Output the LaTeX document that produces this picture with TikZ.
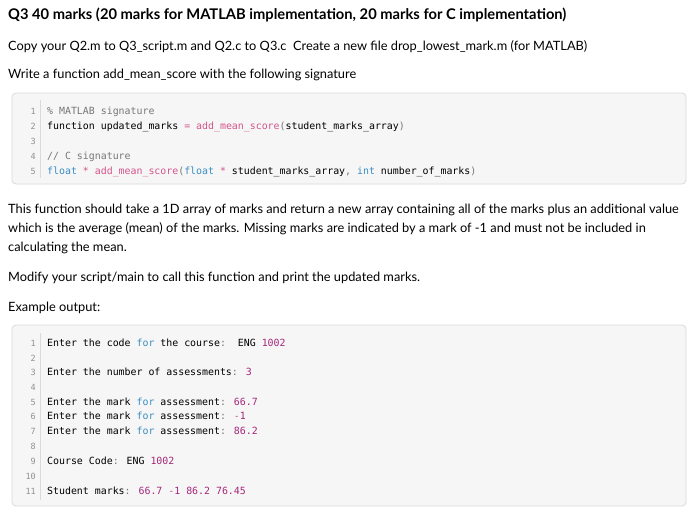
\documentclass[tikz,border=0pt]{standalone}
\usepackage{fontspec}
\setmainfont{Lato}
\newfontfamily\codefont{DejaVu Sans Mono}
\definecolor{codebg}{HTML}{F7F6F6}
\definecolor{codeframe}{HTML}{DADADA}
\definecolor{fnpink}{HTML}{D2558C}
\definecolor{numpurple}{HTML}{A3287A}
\definecolor{kwblue}{HTML}{3A8DC3}
\definecolor{cmtgray}{HTML}{777777}
\newcommand{\fn}[1]{\textcolor{fnpink}{#1}}
\newcommand{\num}[1]{\textcolor{numpurple}{#1}}
\newcommand{\kw}[1]{\textcolor{kwblue}{#1}}
\newcommand{\pn}[1]{\textcolor{cmtgray}{#1}}

\begin{document}
\begin{tikzpicture}[x=1pt, y=-1pt,
    txt/.style={anchor=base west, inner sep=0pt, font=\fontsize{12.8}{14}\selectfont},
    codeline/.style={anchor=base west, inner sep=0pt, font=\codefont\fontsize{9.9}{11}\selectfont},
    lineno/.style={anchor=base east, inner sep=0pt, text=cmtgray!80, font=\codefont\fontsize{8.5}{10}\selectfont},
    codebox/.style={draw=codeframe, fill=codebg, rounded corners=4pt, line width=0.8pt}]
    \useasboundingbox[fill=white] (0,0) rectangle (700,515);

    % heading and intro
    \node[txt, font=\bfseries\fontsize{14.7}{16}\selectfont] (title) at (8,19) {Q3 40 marks (20 marks for MATLAB implementation, 20 marks for C implementation)};
    \node[txt] (copy) at (8,50) {Copy your Q2.m to Q3\_script.m and Q2.c to Q3.c\ \ Create a new file drop\_lowest\_mark.m (for MATLAB)};
    \node[txt] (write) at (8,78) {Write a function add\_mean\_score with the following signature};

    % signature block
    \draw[codebox] (12,93) rectangle (686,184);
    \draw[codeframe, line width=0.8pt] (40,100) -- (40,178);
    \foreach \n/\y in {1/114,2/129,3/144,4/159,5/174}
        \node[lineno] (sn\n) at (36,\y) {\n};
    \node[codeline] (s1) at (47,114) {\pn{\% MATLAB signature}};
    \node[codeline] (s2) at (47,129) {function updated\_marks \fn{=} \fn{add\_mean\_score}\pn{(}student\_marks\_array\pn{)}};
    \node[codeline] (s4) at (47,159) {\pn{// C signature}};
    \node[codeline] (s5) at (47,174) {\kw{float} \fn{*} \fn{add\_mean\_score}\pn{(}\kw{float} \fn{*} student\_marks\_array\pn{,} \kw{int} number\_of\_marks\pn{)}};

    % description
    \node[txt] (p1) at (8,213) {This function should take a 1D array of marks and return a new array containing all of the marks plus an additional value};
    \node[txt] (p2) at (8,232) {which is the average (mean) of the marks. Missing marks are indicated by a mark of -1 and must not be included in};
    \node[txt] (p3) at (8,251) {calculating the mean.};
    \node[txt] (modify) at (8,281) {Modify your script/main to call this function and print the updated marks.};
    \node[txt] (example) at (8,311) {Example output:};

    % example output block
    \draw[codebox] (12,325) rectangle (686,506);
    \draw[codeframe, line width=0.8pt] (40,333) -- (40,500);
    \foreach \n/\y in {1/346,2/361,3/375,4/390,5/405,6/419,7/434,8/449,9/464,10/479,11/494}
        \node[lineno] (on\n) at (36,\y) {\n};
    \node[codeline] (o1) at (47,346) {Enter the code \kw{for} the course\pn{:}\ \ ENG \num{1002}};
    \node[codeline] (o3) at (47,375) {Enter the number of assessments\pn{:} \num{3}};
    \node[codeline] (o5) at (47,405) {Enter the mark \kw{for} assessment\pn{:} \num{66.7}};
    \node[codeline] (o6) at (47,419) {Enter the mark \kw{for} assessment\pn{:} \fn{-}\num{1}};
    \node[codeline] (o7) at (47,434) {Enter the mark \kw{for} assessment\pn{:} \num{86.2}};
    \node[codeline] (o9) at (47,464) {Course Code\pn{:} ENG \num{1002}};
    \node[codeline] (o11) at (47,494) {Student marks\pn{:} \num{66.7} \fn{-}\num{1} \num{86.2} \num{76.45}};
\end{tikzpicture}
\end{document}
